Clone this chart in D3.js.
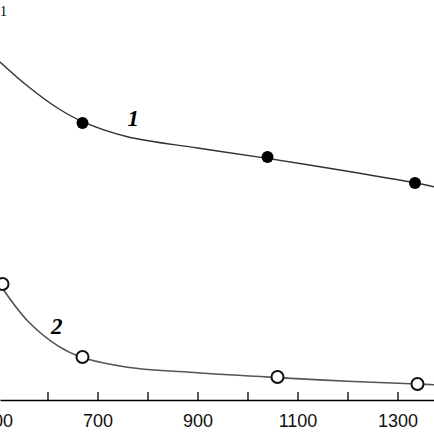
<!DOCTYPE html><html><head><script src="https://cdn.jsdelivr.net/npm/d3@7"></script>
<style>body{margin:0;background:#fff}</style></head><body><svg width="434" height="434"></svg><script>
const xTicks=[500,600,700,800,900,1000,1100,1200,1300];
const xLabels=[500,700,900,1100,1300];
const s1Points=[[670,69.25],[1040,60.75],[1335,54.25]];
const s1Curve=[[505,84.5],[560,78.5],[620,73],[670,69.6],[760,65.8],[900,63],[1040,60.4],[1200,57.2],[1335,54.3],[1373,53.3]];
const s2Points=[[510,29],[670,10.75],[1060,5.75],[1340,4]];
const s2Curve=[[505,28.8],[560,19.8],[620,13.6],[670,10.6],[760,8.2],[900,6.8],[1060,5.6],[1200,4.7],[1340,4],[1373,3.8]];
const svg=d3.select("svg");
const x=d3.scaleLinear().domain([505,1373]).range([0,434]);
const y=d3.scaleLinear().domain([0,100]).range([400,0]);
const ax=svg.append("g").attr("transform","translate(0,400)").call(d3.axisBottom(x).tickValues(xTicks).tickSize(-8).tickFormat(d=>xLabels.includes(d)?d:"").tickSizeOuter(0));
ax.select(".domain").attr("stroke","#000").attr("stroke-width",1.5);
ax.selectAll("line").attr("stroke","#000").attr("stroke-width",1.3);
ax.selectAll("text").attr("dy","1.35em").attr("font-family","Liberation Sans, Arial").attr("font-size",18).attr("fill","#111");
const line=d3.line().x(d=>x(d[0])).y(d=>y(d[1])).curve(d3.curveCatmullRom.alpha(0.5));
svg.append("path").datum(s1Curve).attr("d",line).attr("fill","none").attr("stroke","#333").attr("stroke-width",1.4);
svg.append("path").datum(s2Curve).attr("d",line).attr("fill","none").attr("stroke","#555").attr("stroke-width",1.6);
svg.selectAll(".p1").data(s1Points).join("circle").attr("cx",d=>x(d[0])).attr("cy",d=>y(d[1])).attr("r",6).attr("fill","#000");
svg.selectAll(".p2").data(s2Points).join("circle").attr("cx",d=>x(d[0])).attr("cy",d=>y(d[1])).attr("r",6).attr("fill","#fff").attr("stroke","#111").attr("stroke-width",2);
const t=(tx,ty,s,sz,st)=>svg.append("text").attr("x",tx).attr("y",ty).text(s).attr("font-family","Liberation Serif, Times New Roman").attr("font-size",sz).attr("font-style",st).attr("font-weight",st?"bold":"normal");
t(x(760),y(68.5),"1",23,"italic");
t(x(607),y(16.5),"2",23,"italic");
t(0,16,"1",14,null);
</script></body></html>
